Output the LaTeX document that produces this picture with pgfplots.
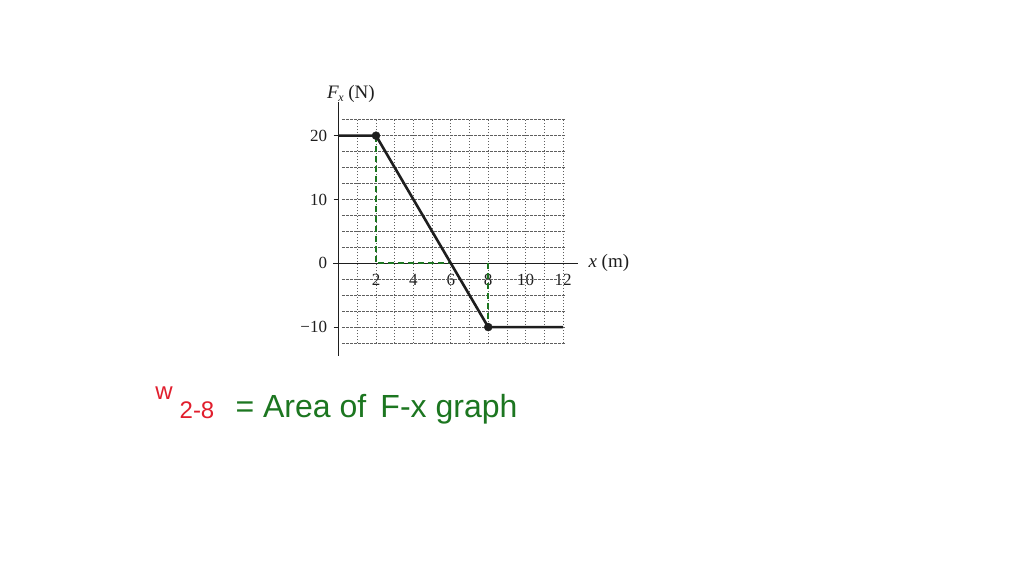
\documentclass[border=0pt]{standalone}
\usepackage{pgfplots}
\pgfplotsset{compat=1.18}
\usepackage{fontspec}
\setmainfont{Liberation Serif}
\newfontfamily\hand{Liberation Sans}
\definecolor{curve}{RGB}{30,30,30}
\definecolor{gridc}{RGB}{95,95,95}
\definecolor{handgreen}{RGB}{28,118,32}
\definecolor{handred}{RGB}{225,30,45}
\begin{document}
\begin{tikzpicture}
\path[fill=white] (0,0) rectangle (1024pt,576pt);
\begin{axis}[
  at={(333pt,220.2pt)}, anchor=south west,
  scale only axis, width=245pt, height=253.3pt,
  xmin=-0.3, xmax=12.8, ymin=-14.5, ymax=25.2,
  axis lines=middle,
  axis line style={line width=1.1pt, curve, -},
  hide obscured x ticks=false, hide obscured y ticks=false,
  xtick={2,4,6,8,10,12}, xticklabels={2,4,6,8,10,12},
  ytick={-10,0,10,20}, yticklabels={−10,0,10,20},
  xtick style={draw=none},
  ytick style={line width=0.9pt, curve},
  major tick length=5pt, tick align=outside,
  ticklabel style={font=\fontsize{17}{20}\selectfont, text=curve},
  xticklabel style={yshift=-2pt},
  yticklabel style={xshift=-3pt},
  every axis x label/.style={at={(axis description cs:1,0.365)}, anchor=west, xshift=7pt, font=\fontsize{19}{22}\selectfont, text=curve},
  every axis y label/.style={at={(axis description cs:0.073,1)}, anchor=base, yshift=4pt, font=\fontsize{19}{22}\selectfont, text=curve},
  xlabel={\textit{x} (m)},
  ylabel={\textit{F}\kern-0.5pt\raisebox{-3.5pt}{\fontsize{12}{12}\selectfont\textit{x}} (N)},
  clip=false,
]
% grid
\pgfplotsinvokeforeach{1,2,3,4,5,6,7,8,9,10,11,12}{
  \draw[gridc, line width=0.8pt, dash pattern=on 1.5pt off 1.5pt] (axis cs:#1,-12.5) -- (axis cs:#1,22.5);
}
\pgfplotsinvokeforeach{-12.5,-10,-7.5,-5,-2.5,2.5,5,7.5,10,12.5,15,17.5,20,22.5}{
  \draw[gridc, line width=0.8pt, dash pattern=on 2.5pt off 1.5pt] (axis cs:0.2,#1) -- (axis cs:12.1,#1);
}
% green dashed construction
\addplot[handgreen, line width=1.8pt, dash pattern=on 6pt off 4pt] coordinates {(2,20) (2,0) (6,0)};
\addplot[handgreen, line width=1.8pt, dash pattern=on 6pt off 4pt] coordinates {(8,0) (8,-10)};
% force curve
\addplot[curve, line width=2.6pt] coordinates {(0,20) (2,20) (8,-10) (12,-10)};
\addplot[only marks, mark=*, mark size=4pt, curve] coordinates {(2,20) (8,-10)};
\end{axis}
% handwritten annotation
\node[handred, font=\hand\fontsize{24}{28}\selectfont, anchor=base] at (164pt,177pt) {w};
\node[handred, font=\hand\fontsize{24}{28}\selectfont, anchor=base] at (197pt,158pt) {2-8};
\node[handgreen, font=\hand\fontsize{32}{36}\selectfont, anchor=base west] at (232pt,159pt) {= Area of\, F-x graph};
\end{tikzpicture}
\end{document}
